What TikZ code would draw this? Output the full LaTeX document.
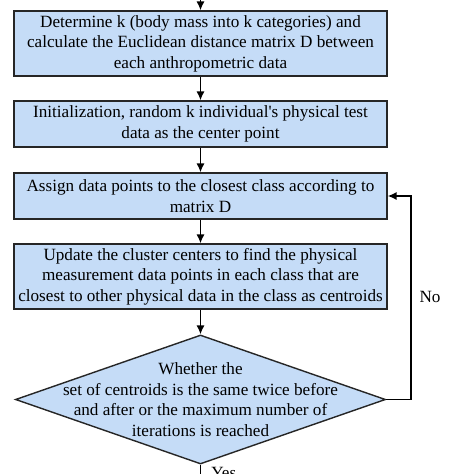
\documentclass[tikz,border=0pt]{standalone}
\usepackage{fontspec}
\setmainfont{Liberation Serif}
\usetikzlibrary{shapes.geometric,arrows.meta}
\definecolor{boxblue}{RGB}{197,220,247}
\tikzset{
  stepbox/.style={draw=black!85, line width=1pt, fill=boxblue, minimum width=9.325cm, inner sep=0pt, align=center, font=\fontsize{12.2}{14.6}\selectfont},
  decide/.style={draw=black!85, line width=1pt, fill=boxblue, diamond, inner sep=0pt, minimum width=9.25cm, minimum height=3.225cm},
  flow/.style={line width=1pt, -{Latex[length=2.2mm,width=2mm]}}
}
\begin{document}
\begin{tikzpicture}[x=0.025cm, y=-0.025cm]
\useasboundingbox (0,0) rectangle (474,474);
\node[stepbox, minimum height=1.625cm] (det) at (200.5,43.5) {Determine k (body mass into k categories) and\\calculate the Euclidean distance matrix D between\\each anthropometric data};
\node[stepbox, minimum height=1.15cm] (init) at (200.5,124) {Initialization, random k individual\textquotesingle s physical test\\data as the center point};
\node[stepbox, minimum height=1.15cm] (assign) at (200.5,196) {Assign data points to the closest class according to\\matrix D};
\node[stepbox, minimum height=1.625cm] (update) at (200.5,276.5) {Update the cluster centers to find the physical\\measurement data points in each class that are\\closest to other physical data in the class as centroids};
\node[decide] (chk) at (200.5,399.5) {};
\node[align=center, font=\fontsize{12.2}{14.6}\selectfont] (chktxt) at (200.5,399.5) {Whether the\\set of centroids is the same twice before\\and after or the maximum number of\\iterations is reached};
\coordinate (start) at (200.5,-2);
\coordinate (end) at (200.5,480);
\coordinate (back) at (411,0);
\draw[flow] (start) -- (det);
\draw[flow] (det) -- (init);
\draw[flow] (init) -- (assign);
\draw[flow] (assign) -- (update);
\draw[flow] (update) -- (chk);
\draw[flow] (chk.east) -| (back |- assign.east) -- (assign.east);
\draw[line width=1pt] (chk.south) -- (end);
\node[font=\fontsize{12.2}{14.6}\selectfont] (no) at (430,297) {No};
\node[anchor=north west, inner sep=0pt, font=\fontsize{12.2}{14.6}\selectfont] (yes) at (211,467) {Yes};
\end{tikzpicture}
\end{document}
